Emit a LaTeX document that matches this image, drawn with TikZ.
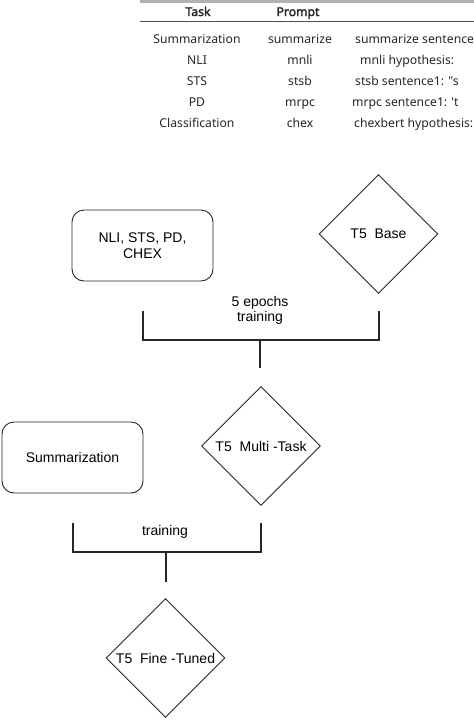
\documentclass[tikz,border=0pt]{standalone}
\usepackage{fontspec}
\setmainfont{Liberation Sans}
\newfontfamily\tabfont{Noto Sans}
\newfontfamily\tabboldfont{Noto Sans}[FakeBold=2.2]
\usetikzlibrary{shapes.geometric}
\tikzset{
  flowbox/.style={draw=black!85, line width=0.9pt, rounded corners=12pt, minimum width=141pt, minimum height=71pt, inner sep=0pt, align=center, font=\fontsize{14}{16}\selectfont},
  flowdia/.style={draw=black!85, line width=0.9pt, diamond, aspect=1, minimum width=119pt, minimum height=119pt, inner sep=0pt, font=\fontsize{14}{16}\selectfont},
  bracket/.style={draw=black!85, line width=2pt},
  lbl/.style={align=center, inner sep=0pt, font=\fontsize{14}{15.5}\selectfont},
  tcell/.style={inner sep=0pt, anchor=base, text=black!85, font=\tabfont\fontsize{12.2}{14}\selectfont},
  thead/.style={tcell, font=\tabboldfont\fontsize{12.2}{14}\selectfont}
}
\begin{document}
\begin{tikzpicture}[x=1pt,y=-1pt]
\useasboundingbox (0,0) rectangle (474,721);
\begin{scope}
\clip (0,0) rectangle (474,721);
% table
\fill[black!30] (140,0) rectangle (474,3);
\draw[black!70, line width=0.8pt] (140,21.5) -- (474,21.5);
\node[thead] (hTask) at (198,16) {Task};
\node[thead] (hPrompt) at (298,16) {Prompt};
\node[tcell] (t1a) at (197,43.5) {Summarization};
\node[tcell] (t2a) at (197,64.5) {NLI};
\node[tcell] (t3a) at (197,85.5) {STS};
\node[tcell] (t4a) at (197,106.5) {PD};
\node[tcell] (t5a) at (197,127.5) {Classification};
\node[tcell] (t1b) at (300,43.5) {summarize};
\node[tcell] (t2b) at (300,64.5) {mnli};
\node[tcell] (t3b) at (300,85.5) {stsb};
\node[tcell] (t4b) at (300,106.5) {mrpc};
\node[tcell] (t5b) at (300,127.5) {chex};
\node[tcell, anchor=base west] (t1c) at (355,43.5) {summarize sentence:};
\node[tcell, anchor=base west] (t2c) at (360,64.5) {mnli hypothesis:};
\node[tcell, anchor=base west] (t3c) at (355,85.5) {stsb sentence1: "s};
\node[tcell, anchor=base west] (t4c) at (352,106.5) {mrpc sentence1: 't};
\node[tcell, anchor=base west] (t5c) at (354,127.5) {chexbert hypothesis:};
\end{scope}
% flowchart
\node[flowbox] (data) at (142.5,245.5) {NLI, STS, PD,\\CHEX};
\node[flowdia] (base) at (378.5,234) {T5\ \ Base};
\node[lbl] (ep) at (260,310.5) {5 epochs\\training};
\coordinate (b1a) at (142.5,311);
\coordinate (b1b) at (378.5,311);
\coordinate (j1) at (260,340);
\coordinate (s1) at (260,368);
\draw[bracket] (b1a) -- (b1a |- j1) -- (b1b |- j1) -- (b1b);
\draw[bracket] (j1) -- (s1);
\node[flowdia] (multi) at (261,446) {T5\ \ Multi -Task};
\node[flowbox] (summ) at (72.5,457.5) {Summarization};
\node[lbl] (tr) at (165,532) {training};
\coordinate (b2a) at (72.5,523);
\coordinate (b2b) at (261,523);
\coordinate (j2) at (166,552);
\coordinate (s2) at (166,582);
\draw[bracket] (b2a) -- (b2a |- j2) -- (b2b |- j2) -- (b2b);
\draw[bracket] (j2) -- (s2);
\node[flowdia] (fine) at (165.5,658) {T5\ \ Fine -Tuned};
\end{tikzpicture}
\end{document}
